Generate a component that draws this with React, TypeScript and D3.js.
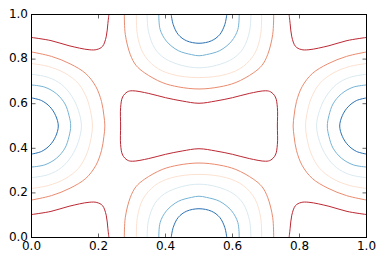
import React from 'react';
import * as d3 from 'd3';

type P = [number, number];

// axis ticks
const xTicks = [0, 0.2, 0.4, 0.6, 0.8, 1.0];
const yTicks = [0, 0.2, 0.4, 0.6, 0.8, 1.0];
const tickLabels = ['0.0', '0.2', '0.4', '0.6', '0.8', '1.0'];

// contour levels, low -> high (index 0 = red ... 5 = dark blue)
const levels = [-0.8, -0.48, -0.16, 0.16, 0.48, 0.8];

// Quarter contours.
// Arcs around the maxima on the left / right edges: [x from edge, |y - 0.5|]
const sideArcOrange: P[] = [[0, 0.332], [0.06, 0.312], [0.115, 0.279], [0.162, 0.235], [0.192, 0.177], [0.209, 0.11], [0.216, 0.048], [0.219, 0]];
const sideArcPeach: P[] = [[0, 0.28], [0.05, 0.267], [0.1, 0.237], [0.14, 0.19], [0.165, 0.125], [0.178, 0.053], [0.182, 0]];
const sideArcLightBlue: P[] = [[0, 0.232], [0.05, 0.218], [0.09, 0.186], [0.12, 0.134], [0.14, 0.07], [0.149, 0]];
const sideArcMidBlue: P[] = [[0, 0.184], [0.04, 0.174], [0.075, 0.144], [0.1, 0.099], [0.112, 0.047], [0.117, 0]];
const sideArcDarkBlue: P[] = [[0, 0.126], [0.03, 0.114], [0.055, 0.086], [0.072, 0.047], [0.08, 0]];

// Arcs around the maxima on the top / bottom edges: [|x - 0.5|, y from edge]
const capArcOrange: P[] = [[0.223, 0], [0.22, 0.09], [0.205, 0.18], [0.188, 0.228], [0.162, 0.262], [0.11, 0.305], [0.06, 0.325], [0, 0.334]];
const capArcPeach: P[] = [[0.187, 0], [0.184, 0.09], [0.167, 0.173], [0.132, 0.233], [0.082, 0.268], [0, 0.283]];
const capArcLightBlue: P[] = [[0.155, 0], [0.151, 0.075], [0.132, 0.152], [0.102, 0.197], [0.052, 0.228], [0, 0.239]];
const capArcMidBlue: P[] = [[0.12, 0], [0.116, 0.067], [0.097, 0.12], [0.062, 0.162], [0.022, 0.18], [0, 0.185]];
const capArcDarkBlue: P[] = [[0.083, 0], [0.077, 0.045], [0.062, 0.09], [0.037, 0.118], [0, 0.129]];

// Lowest level: around the corners [x from edge, y from edge] and around the centre [|x-0.5|, |y-0.5|]
const cornerRed: P[] = [[0, 0.103], [0.058, 0.117], [0.112, 0.14], [0.172, 0.158], [0.195, 0.157], [0.212, 0.143], [0.223, 0.1], [0.228, 0.04], [0.231, 0]];
const centerRed: P[] = [[0.234, 0], [0.234, 0.083], [0.228, 0.13], [0.214, 0.153], [0.199, 0.158], [0.15, 0.146], [0.1, 0.127], [0.05, 0.112], [0, 0.102]];

const sideArcs = [null, sideArcOrange, sideArcPeach, sideArcLightBlue, sideArcMidBlue, sideArcDarkBlue];
const capArcs = [null, capArcOrange, capArcPeach, capArcLightBlue, capArcMidBlue, capArcDarkBlue];

// styles
const levelColors = ['#bb2833', '#e98b6f', '#fce1d1', '#d9e9f1', '#76b3d4', '#2a71b2'];
const W = 379;
const H = 266;
const left = 31.5, right = 366.5, top = 14.5, bottom = 237.5;
const font = "'DejaVu Sans', 'Bitstream Vera Sans', sans-serif";

export default function App() {
  const x = d3.scaleLinear().domain([0, 1]).range([left, right]);
  const y = d3.scaleLinear().domain([0, 1]).range([bottom, top]);
  const open = d3.line<P>().x(d => x(d[0])).y(d => y(d[1])).curve(d3.curveCatmullRom.alpha(0.5));
  const closed = d3.line<P>().x(d => x(d[0])).y(d => y(d[1])).curve(d3.curveCatmullRomClosed.alpha(0.5));

  const paths: { d: string; color: string; key: string }[] = [];

  levels.forEach((lv, i) => {
    const color = levelColors[i];
    if (i === 0) {
      const q = cornerRed;
      const corners: [(p: P) => P, string][] = [
        [p => [p[0], 1 - p[1]], 'tl'],
        [p => [1 - p[0], 1 - p[1]], 'tr'],
        [p => [p[0], p[1]], 'bl'],
        [p => [1 - p[0], p[1]], 'br'],
      ];
      corners.forEach(([f, k]) => paths.push({ d: open(q.map(f)) as string, color, key: 'c' + k }));
      const c = centerRed;
      const rev = c.slice().reverse();
      const ring: P[] = [
        ...c.map(p => [0.5 + p[0], 0.5 + p[1]] as P),
        ...rev.slice(1).map(p => [0.5 - p[0], 0.5 + p[1]] as P),
        ...c.slice(1).map(p => [0.5 - p[0], 0.5 - p[1]] as P),
        ...rev.slice(1, -1).map(p => [0.5 + p[0], 0.5 - p[1]] as P),
      ];
      paths.push({ d: closed(ring) as string, color, key: 'center' });
      return;
    }
    const s = sideArcs[i] as P[];
    const sRev = s.slice(0, -1).reverse();
    const leftArc: P[] = [...s.map(p => [p[0], 0.5 + p[1]] as P), ...sRev.map(p => [p[0], 0.5 - p[1]] as P)];
    const rightArc: P[] = leftArc.map(p => [1 - p[0], p[1]] as P);
    const c = capArcs[i] as P[];
    const cRev = c.slice(0, -1).reverse();
    const topArc: P[] = [...c.map(p => [0.5 - p[0], 1 - p[1]] as P), ...cRev.map(p => [0.5 + p[0], 1 - p[1]] as P)];
    const bottomArc: P[] = topArc.map(p => [p[0], 1 - p[1]] as P);
    [leftArc, rightArc, topArc, bottomArc].forEach((arc, j) =>
      paths.push({ d: open(arc) as string, color, key: `l${i}-${j}` })
    );
  });

  const tickLen = 4;

  return (
    <svg
      width={W}
      height={H}
      viewBox={`0 0 ${W} ${H}`}
      style={{ position: 'absolute', left: 0, top: 0, background: '#fff' }}
    >
      <defs>
        <clipPath id="plotclip">
          <rect x={left} y={top} width={right - left} height={bottom - top} />
        </clipPath>
      </defs>
      <rect x={0} y={0} width={W} height={H} fill="#fff" />
      <g clipPath="url(#plotclip)" fill="none" strokeWidth={1}>
        {paths.map(p => (
          <path key={p.key} d={p.d} stroke={p.color} />
        ))}
      </g>
      <rect x={left} y={top} width={right - left} height={bottom - top} fill="none" stroke="#000" strokeWidth={1} />
      <g stroke="#000" strokeWidth={0.6}>
        {xTicks.map(t => (
          <g key={'xt' + t}>
            <line x1={x(t)} x2={x(t)} y1={bottom} y2={bottom - tickLen} />
            <line x1={x(t)} x2={x(t)} y1={top} y2={top + tickLen} />
          </g>
        ))}
        {yTicks.map(t => (
          <g key={'yt' + t}>
            <line x1={left} x2={left + tickLen} y1={y(t)} y2={y(t)} />
            <line x1={right} x2={right - tickLen} y1={y(t)} y2={y(t)} />
          </g>
        ))}
      </g>
      <g fontFamily={font} fontSize={12} fill="#000">
        {xTicks.map((t, i) => (
          <text key={'xl' + t} x={x(t)} y={bottom + 12} textAnchor="middle">
            {tickLabels[i]}
          </text>
        ))}
        {yTicks.map((t, i) => (
          <text key={'yl' + t} x={left - 3.5} y={y(t) + 3.3} textAnchor="end">
            {tickLabels[i]}
          </text>
        ))}
      </g>
    </svg>
  );
}
